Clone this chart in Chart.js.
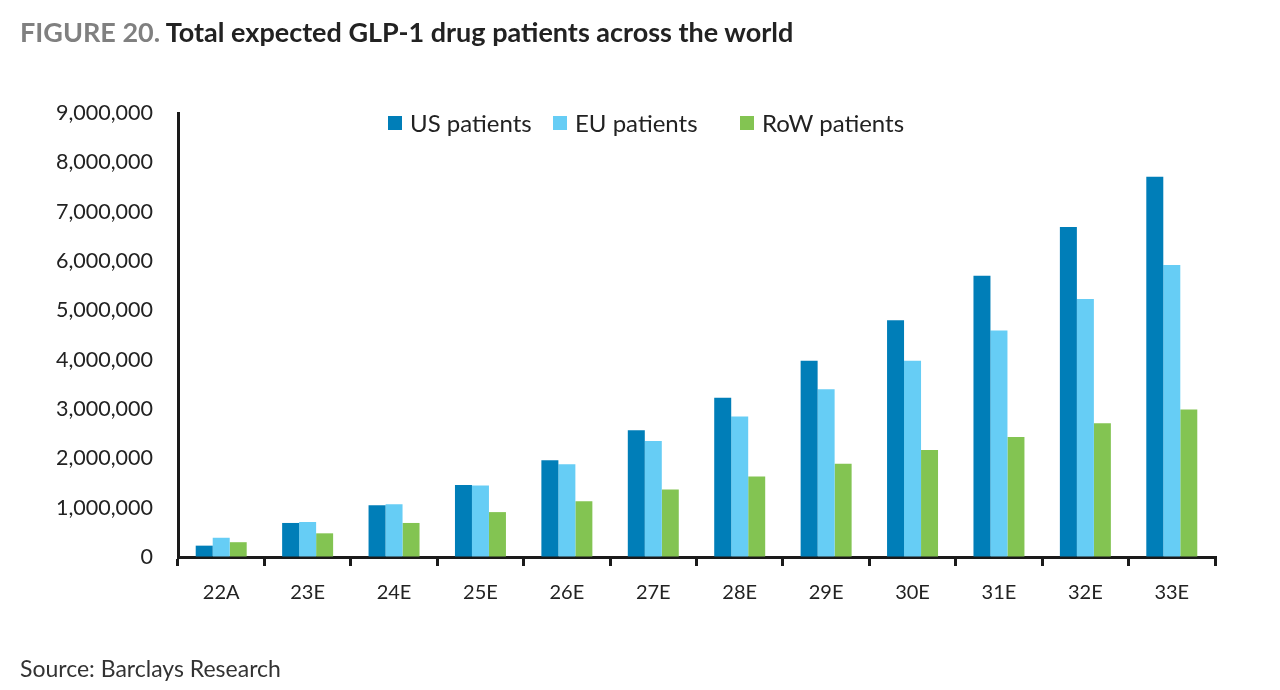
<!DOCTYPE html>
<html>
<head>
<meta charset="utf-8">
<script src="https://cdn.jsdelivr.net/npm/chart.js@4.4.1/dist/chart.umd.min.js"></script>
<style>
  body { margin: 0; background: #fff; font-family: Lato, "Open Sans", sans-serif; }
  #wrap { position: relative; width: 1280px; height: 690px; overflow: hidden; }
  #title { position: absolute; left: 20px; top: 15px; font-size: 27px; font-weight: 700; color: #222; white-space: nowrap; }
  #title .fig { color: #808080; }
  #source { position: absolute; left: 20px; top: 654px; font-size: 23px; color: #333; }
  #box { position: absolute; left: 0; top: 0; width: 1280px; height: 690px; }
  #legend { position: absolute; left: 388px; top: 108px; display: flex; align-items: center; font-size: 24px; color: #222; white-space: nowrap; }
  #legend .item { display: flex; align-items: center; }
  #legend .sw { width: 14px; height: 14px; margin-right: 8px; }
</style>
</head>
<body>
<div id="wrap">
  <div id="box"><canvas id="glpChart"></canvas></div>
  <div id="title"><span class="fig">FIGURE 20.</span> Total expected GLP-1 drug patients across the world</div>
  <div id="legend"></div>
  <div id="source">Source: Barclays Research</div>
</div>
<script>
// Dữ liệu biểu đồ
const years = ['22A', '23E', '24E', '25E', '26E', '27E', '28E', '29E', '30E', '31E', '32E', '33E'];
const usPatients = [230000, 690000, 1050000, 1460000, 1960000, 2570000, 3230000, 3980000, 4800000, 5700000, 6690000, 7710000];
const euPatients = [390000, 710000, 1070000, 1450000, 1880000, 2350000, 2850000, 3400000, 3980000, 4590000, 5230000, 5920000];
const rowPatients = [300000, 480000, 690000, 910000, 1130000, 1370000, 1630000, 1890000, 2170000, 2430000, 2710000, 2990000];
const yTicks = [0, 1000000, 2000000, 3000000, 4000000, 5000000, 6000000, 7000000, 8000000, 9000000];

const axisColor = '#1a1a1a';
const textColor = '#222';
// Độ rộng từng mục chú giải (px)
const legendItemWidths = [165, 187, 170];

const ctx = document.getElementById('glpChart').getContext('2d');

const chart = new Chart(ctx, {
    type: 'bar',
    data: {
        labels: years,
        datasets: [
            { label: 'US patients', data: usPatients, backgroundColor: '#007EB8' },
            { label: 'EU patients', data: euPatients, backgroundColor: '#66CDF5' },
            { label: 'RoW patients', data: rowPatients, backgroundColor: '#83C452' }
        ]
    },
    options: {
        responsive: true,
        maintainAspectRatio: false,
        animation: false,
        datasets: {
            bar: { barPercentage: 1, categoryPercentage: 0.59, borderWidth: 0 }
        },
        layout: {
            padding: { left: 0, top: 113, right: 65, bottom: 83 }
        },
        scales: {
            x: {
                grid: {
                    offset: true,
                    drawOnChartArea: false,
                    drawTicks: true,
                    tickLength: 9,
                    color: axisColor,
                    lineWidth: 3
                },
                border: { display: true, color: axisColor, width: 3 },
                ticks: {
                    color: textColor,
                    padding: 15,
                    font: { family: 'Lato', size: 20 }
                },
                afterFit: function(scale) { scale.height = 50; }
            },
            y: {
                min: 0,
                max: 9000000,
                afterBuildTicks: function(scale) {
                    scale.ticks = yTicks.map(v => ({ value: v }));
                },
                grid: { display: true, drawOnChartArea: false, drawTicks: false },
                border: { display: true, color: axisColor, width: 3 },
                ticks: {
                    color: textColor,
                    padding: 25,
                    font: { family: 'Lato', size: 21.5 },
                    callback: function(value) {
                        return value.toLocaleString('en-US');
                    }
                },
                afterFit: function(scale) { scale.width = 178; }
            }
        },
        plugins: {
            legend: { display: false },
            tooltip: { enabled: false }
        }
    }
});

// Chú giải dạng HTML, nằm trong vùng biểu đồ
const legendEl = document.getElementById('legend');
chart.data.datasets.forEach(function(ds, i) {
    const item = document.createElement('div');
    item.className = 'item';
    item.style.width = legendItemWidths[i] + 'px';
    const sw = document.createElement('span');
    sw.className = 'sw';
    sw.style.background = ds.backgroundColor;
    const txt = document.createElement('span');
    txt.textContent = ds.label;
    item.appendChild(sw);
    item.appendChild(txt);
    legendEl.appendChild(item);
});
</script>
</body>
</html>
